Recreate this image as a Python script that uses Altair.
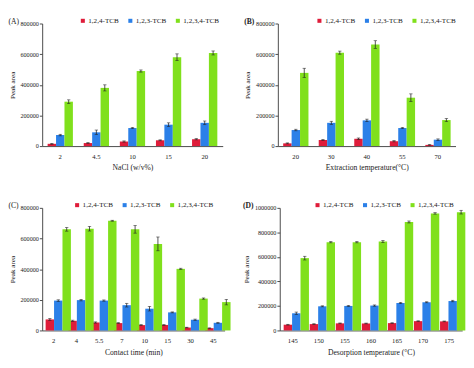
import altair as alt
import pandas as pd

series = ["1,2,4-TCB", "1,2,3-TCB", "1,2,3,4-TCB"]
colors = ["#df1c3a", "#2b80e8", "#80e01c"]

# Panel A: NaCl
a_cats = ["2", "4.5", "10", "15", "20"]
a_red = [15000, 20000, 30000, 38000, 45000]
a_red_err = [3000, 3000, 4000, 3000, 4000]
a_blue = [72000, 90000, 118000, 140000, 152000]
a_blue_err = [5000, 15000, 4000, 12000, 12000]
a_green = [290000, 380000, 490000, 580000, 608000]
a_green_err = [12000, 20000, 7000, 22000, 13000]

# Panel B: extraction temperature
b_cats = ["20", "30", "40", "55", "70"]
b_red = [18000, 40000, 48000, 32000, 8000]
b_red_err = [3000, 4000, 5000, 4000, 2000]
b_blue = [105000, 152000, 168000, 118000, 42000]
b_blue_err = [5000, 10000, 8000, 4000, 5000]
b_green = [478000, 610000, 663000, 316000, 170000]
b_green_err = [30000, 10000, 25000, 25000, 10000]

# Panel C: contact time
c_cats = ["2", "4", "5.5", "7", "10", "15", "30", "45"]
c_red = [72000, 63000, 52000, 48000, 35000, 36000, 19000, 15000]
c_red_err = [6000, 4000, 4000, 3000, 3000, 3000, 2000, 2000]
c_blue = [195000, 198000, 195000, 165000, 142000, 118000, 70000, 50000]
c_blue_err = [5000, 5000, 4000, 12000, 15000, 3000, 4000, 3000]
c_green = [660000, 664000, 716000, 660000, 565000, 402000, 208000, 185000]
c_green_err = [12000, 15000, 3000, 25000, 45000, 4000, 4000, 18000]

# Panel D: desorption temperature
d_cats = ["145", "150", "155", "160", "165", "170", "175"]
d_red = [47000, 52000, 58000, 57000, 60000, 76000, 74000]
d_red_err = [3000, 3000, 3000, 3000, 3000, 3000, 3000]
d_blue = [140000, 197000, 200000, 203000, 224000, 230000, 240000]
d_blue_err = [10000, 4000, 4000, 5000, 5000, 4000, 6000]
d_green = [590000, 720000, 720000, 725000, 885000, 955000, 965000]
d_green_err = [15000, 5000, 5000, 8000, 8000, 6000, 15000]

FONT = "Liberation Serif"


def panel(letter, bold, cats, vals, errs, xtitle, ymax, width, legx):
    rows = []
    for s, v_list, e_list in zip(series, vals, errs):
        for c, v, e in zip(cats, v_list, e_list):
            rows.append({"cat": c, "series": s, "value": v, "lo": v - e, "hi": v + e})
    df = pd.DataFrame(rows)
    yscale = alt.Scale(domain=[0, ymax], nice=False)
    yaxis = alt.Axis(values=list(range(0, ymax + 1, 200000)), format="d",
                     labelFontSize=6.5, titleFontSize=7.5, titleFontWeight="normal",
                     labelOverlap=False, labelFlush=False,
                     grid=False, domainColor="#444", tickColor="#444", tickSize=3,
                     labelPadding=1, titlePadding=4, labelColor="#222", titleColor="#222")
    xaxis = alt.Axis(labelAngle=0, labelFontSize=7, titleFontSize=8, titleFontWeight="normal",
                     ticks=False, domainColor="#444", labelPadding=7, titlePadding=5,
                     labelColor="#222", titleColor="#222")
    base = alt.Chart(df).encode(
        x=alt.X("cat:N", sort=cats, title=xtitle, axis=xaxis,
                scale=alt.Scale(paddingInner=0.3, paddingOuter=0.15)),
        xOffset=alt.XOffset("series:N", sort=series,
                            scale=alt.Scale(paddingInner=0.0, paddingOuter=0.0)),
    )
    bars = base.mark_bar().encode(
        y=alt.Y("value:Q", scale=yscale, axis=yaxis, title="Peak area"),
        color=alt.Color("series:N", sort=series,
                        scale=alt.Scale(domain=series, range=colors),
                        legend=alt.Legend(title=None, orient="none", direction="horizontal",
                                          legendX=legx, legendY=-7, symbolType="square",
                                          symbolSize=18, symbolStrokeWidth=0, padding=0,
                                          labelFontSize=7.5, labelOffset=2,
                                          columnPadding=8, labelColor="#222")),
    )
    rule = base.mark_rule(color="#222", strokeWidth=0.8).encode(
        y=alt.Y("lo:Q", scale=yscale, axis=yaxis, title="Peak area"), y2="hi:Q")
    cap_hi = base.mark_tick(color="#222", thickness=0.8, size=3.5).encode(
        y=alt.Y("hi:Q", scale=yscale, axis=yaxis, title="Peak area"))
    cap_lo = base.mark_tick(color="#222", thickness=0.8, size=3.5).encode(
        y=alt.Y("lo:Q", scale=yscale, axis=yaxis, title="Peak area"))
    return alt.layer(bars, rule, cap_hi, cap_lo).properties(
        width=width, height=129,
        title=alt.TitleParams(letter, anchor="start", fontSize=8,
                              fontWeight="bold" if bold else "normal",
                              color="#222", offset=-9),
    )


pa = panel("(A)", False, a_cats, [a_red, a_blue, a_green],
           [a_red_err, a_blue_err, a_green_err], "NaCl (w/v%)", 800000, 190, 39)
pb = panel("(B)", True, b_cats, [b_red, b_blue, b_green],
           [b_red_err, b_blue_err, b_green_err], "Extraction temperature(°C)", 800000, 187, 40)
pc = panel("(C)", False, c_cats, [c_red, c_blue, c_green],
           [c_red_err, c_blue_err, c_green_err], "Contact time (min)", 800000, 192, 33)
pd_ = panel("(D)", True, d_cats, [d_red, d_blue, d_green],
            [d_red_err, d_blue_err, d_green_err], "Desorption temperature (°C)", 1000000, 192, 36)

row1 = alt.hconcat(pa, pb, spacing=22).resolve_legend(color="independent")
row2 = alt.hconcat(pc, pd_, spacing=12).resolve_legend(color="independent")
chart = alt.vconcat(row1, row2, spacing=31).resolve_legend(color="independent").properties(
    padding={"left": 0, "top": 0, "right": 0, "bottom": 0}
).configure(font=FONT).configure_view(stroke=None).configure_axisY(labelOverlap=False)

chart.save("out.html", embed_options={"renderer": "svg", "actions": False})
